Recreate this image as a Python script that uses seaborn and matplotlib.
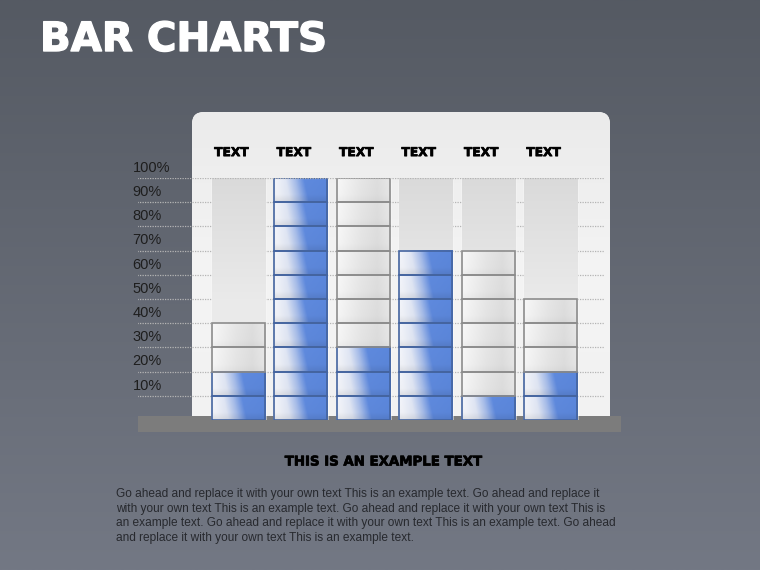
import numpy as np
import pandas as pd
import matplotlib.pyplot as plt
import seaborn as sns
import matplotlib.patheffects as pe
from matplotlib.colors import LinearSegmentedColormap
from matplotlib.patches import FancyBboxPatch, Rectangle

# Chart data: each column is a stack of 10% cells, part of them filled blue
col_ids = ['c1', 'c2', 'c3', 'c4', 'c5', 'c6']
col_labels = ['TEXT', 'TEXT', 'TEXT', 'TEXT', 'TEXT', 'TEXT']
total_pct = [40, 100, 100, 70, 70, 50]
filled_pct = [20, 100, 30, 70, 10, 20]
tick_values = [10, 20, 30, 40, 50, 60, 70, 80, 90, 100]
tick_labels = ['10%', '20%', '30%', '40%', '50%', '60%', '70%', '80%', '90%', '100%']

title = 'BAR CHARTS'
subtitle = 'THIS IS AN EXAMPLE TEXT'
body_lines = [
    'Go ahead and replace it with your own text This is an example text. Go ahead and replace it',
    'with your own text This is an example text. Go ahead and replace it with your own text This is',
    'an example text. Go ahead and replace it with your own text This is an example text. Go ahead',
    'and replace it with your own text This is an example text.',
]

df = pd.DataFrame({'col': col_ids, 'track': 100, 'total': total_pct, 'filled': filled_pct})

sns.set_style('white')
plt.rcParams['font.family'] = ['Liberation Sans', 'DejaVu Sans']

W, H = 760, 570
fig = plt.figure(figsize=(7.6, 5.7), dpi=100)

# background axes in pixel coordinates
bg = fig.add_axes([0, 0, 1, 1], zorder=0)
bg.set_xlim(0, W)
bg.set_ylim(H, 0)
bg.axis('off')
bg_cmap = LinearSegmentedColormap.from_list('bg', ['#555a63', '#737884'])
bg.imshow(np.linspace(0, 1, 256).reshape(-1, 1), cmap=bg_cmap, extent=(0, W, H, 0), aspect='auto')

# white rounded panel
panel = FancyBboxPatch((192, 112), 418, 320, boxstyle='round,pad=0,rounding_size=12',
                       facecolor='#f2f2f2', edgecolor='none', zorder=1)
bg.add_patch(panel)
panel_cmap = LinearSegmentedColormap.from_list('panel', ['#ebebeb', '#f4f4f4', '#f2f2f2'])
pim = bg.imshow(np.linspace(0, 1, 256).reshape(-1, 1), cmap=panel_cmap,
                extent=(192, 610, 432, 112), aspect='auto', zorder=2)
pim.set_clip_path(panel)
# grey base
bg.add_patch(Rectangle((138, 416), 483, 16, facecolor='#7c7c7c', edgecolor='none', zorder=3))

# data axes
ax = fig.add_axes([138 / W, 1 - 420 / H, (605 - 138) / W, (420 - 178) / H], zorder=1)
ax.patch.set_alpha(0)

bw = 0.85
sns.barplot(data=df, x='col', y='track', color='#e8e8e8', width=bw, errorbar=None,
            saturation=1, ax=ax, zorder=2)
sns.barplot(data=df, x='col', y='total', color='#e6e6e6', width=bw, errorbar=None,
            saturation=1, ax=ax, zorder=3)
sns.barplot(data=df, x='col', y='filled', color='#5b87dc', width=bw, errorbar=None,
            saturation=1, ax=ax, zorder=4)

# gradient images
def grad_img(stops, vstops, n=80, m=30, slant=0.1):
    xs = np.linspace(0, 1, n)
    ys = np.linspace(0, 1, m).reshape(-1, 1)
    t = np.clip(xs - slant * ys, 0, 1)
    cmap = LinearSegmentedColormap.from_list('g', stops)
    img = cmap(t)
    # slight darkening towards the bottom of the cell
    shade = np.interp(ys, [0, 0.7, 1], vstops)
    img[..., :3] *= shade[..., None]
    return img

blue_img = grad_img([(0, '#f3f5fb'), (0.2, '#e1e7f5'), (0.38, '#a7bdea'), (0.55, '#5f8ade'), (1, '#5b87dc')],
                    [1.0, 0.98, 0.9])
grey_img = grad_img([(0, '#f8f8f8'), (0.45, '#e6e6e6'), (0.75, '#dedede'), (1, '#e8e8e8')],
                    [1.0, 0.99, 0.96], slant=0.0)
track_cmap = LinearSegmentedColormap.from_list('trk', ['#dadada', '#eaeaea', '#efefef'])

track_bars, total_bars, filled_bars = ax.containers[0], ax.containers[1], ax.containers[2]

for i, (tb, fb, sb) in enumerate(zip(total_bars, filled_bars, track_bars)):
    x0 = sb.get_x()
    w = sb.get_width()
    # empty track
    ax.imshow(np.linspace(0, 1, 128).reshape(-1, 1), cmap=track_cmap,
              extent=(x0, x0 + w, 0, 100), origin='upper', aspect='auto', zorder=2.5)
    n_cells = int(round(tb.get_height() / 10))
    n_blue = int(round(fb.get_height() / 10))
    for k in range(n_cells):
        y0 = k * 10
        blue = k < n_blue
        ax.imshow(blue_img if blue else grey_img, extent=(x0, x0 + w, y0, y0 + 10),
                  origin='upper', aspect='auto', zorder=5, interpolation='bilinear')
        ax.add_patch(Rectangle((x0, y0), w, 10, fill=False, zorder=6,
                               edgecolor='#44649f' if blue else '#8c8c8c', lw=1.2))

# gridlines
ax.hlines(tick_values[:-1], -1.7, 6.0, colors='#b4b4b4', linestyles=(0, (1, 1)), lw=0.9, zorder=1)
ax.hlines([100], -1.7, 6.0, colors='#b4b4b4', linestyles=(0, (1, 1)), lw=0.9, zorder=7)

ax.set_xlim(-1.61, 5.87)
ax.set_ylim(0, 100)
ax.set_xlabel('')
ax.set_ylabel('')
ax.set_xticks([])
ax.set_yticks([])
sns.despine(ax=ax, left=True, bottom=True)

# percent labels, sitting above their gridlines
for v, lab in zip(tick_values, tick_labels):
    ax.text(-1.7, v + 4.2, lab, ha='left', va='center', fontsize=10.5, color='#1e1e1e')

# column headers
heavy = [pe.withStroke(linewidth=0.5, foreground='black')]
for i, lab in enumerate(col_labels):
    ax.text(i - 0.11, 110.5, lab, ha='center', va='center', fontsize=8.8,
            fontweight='bold', color='black', family='DejaVu Sans', path_effects=heavy)

fig.text(40 / W, 1 - 40 / H, title, ha='left', va='center', fontsize=29,
         fontweight='bold', color='white', family='DejaVu Sans',
         path_effects=[pe.withStroke(linewidth=1.0, foreground='white')])
fig.text(384 / W, 1 - 462 / H, subtitle, ha='center', va='center', fontsize=9.6,
         fontweight='bold', color='black', family='DejaVu Sans', path_effects=heavy)
for j, line in enumerate(body_lines):
    fig.text(116 / W, 1 - (494 + j * 14.6) / H, line, ha='left', va='center',
             fontsize=8.55, color='#27292e')

fig.savefig('out.png', dpi=100)
